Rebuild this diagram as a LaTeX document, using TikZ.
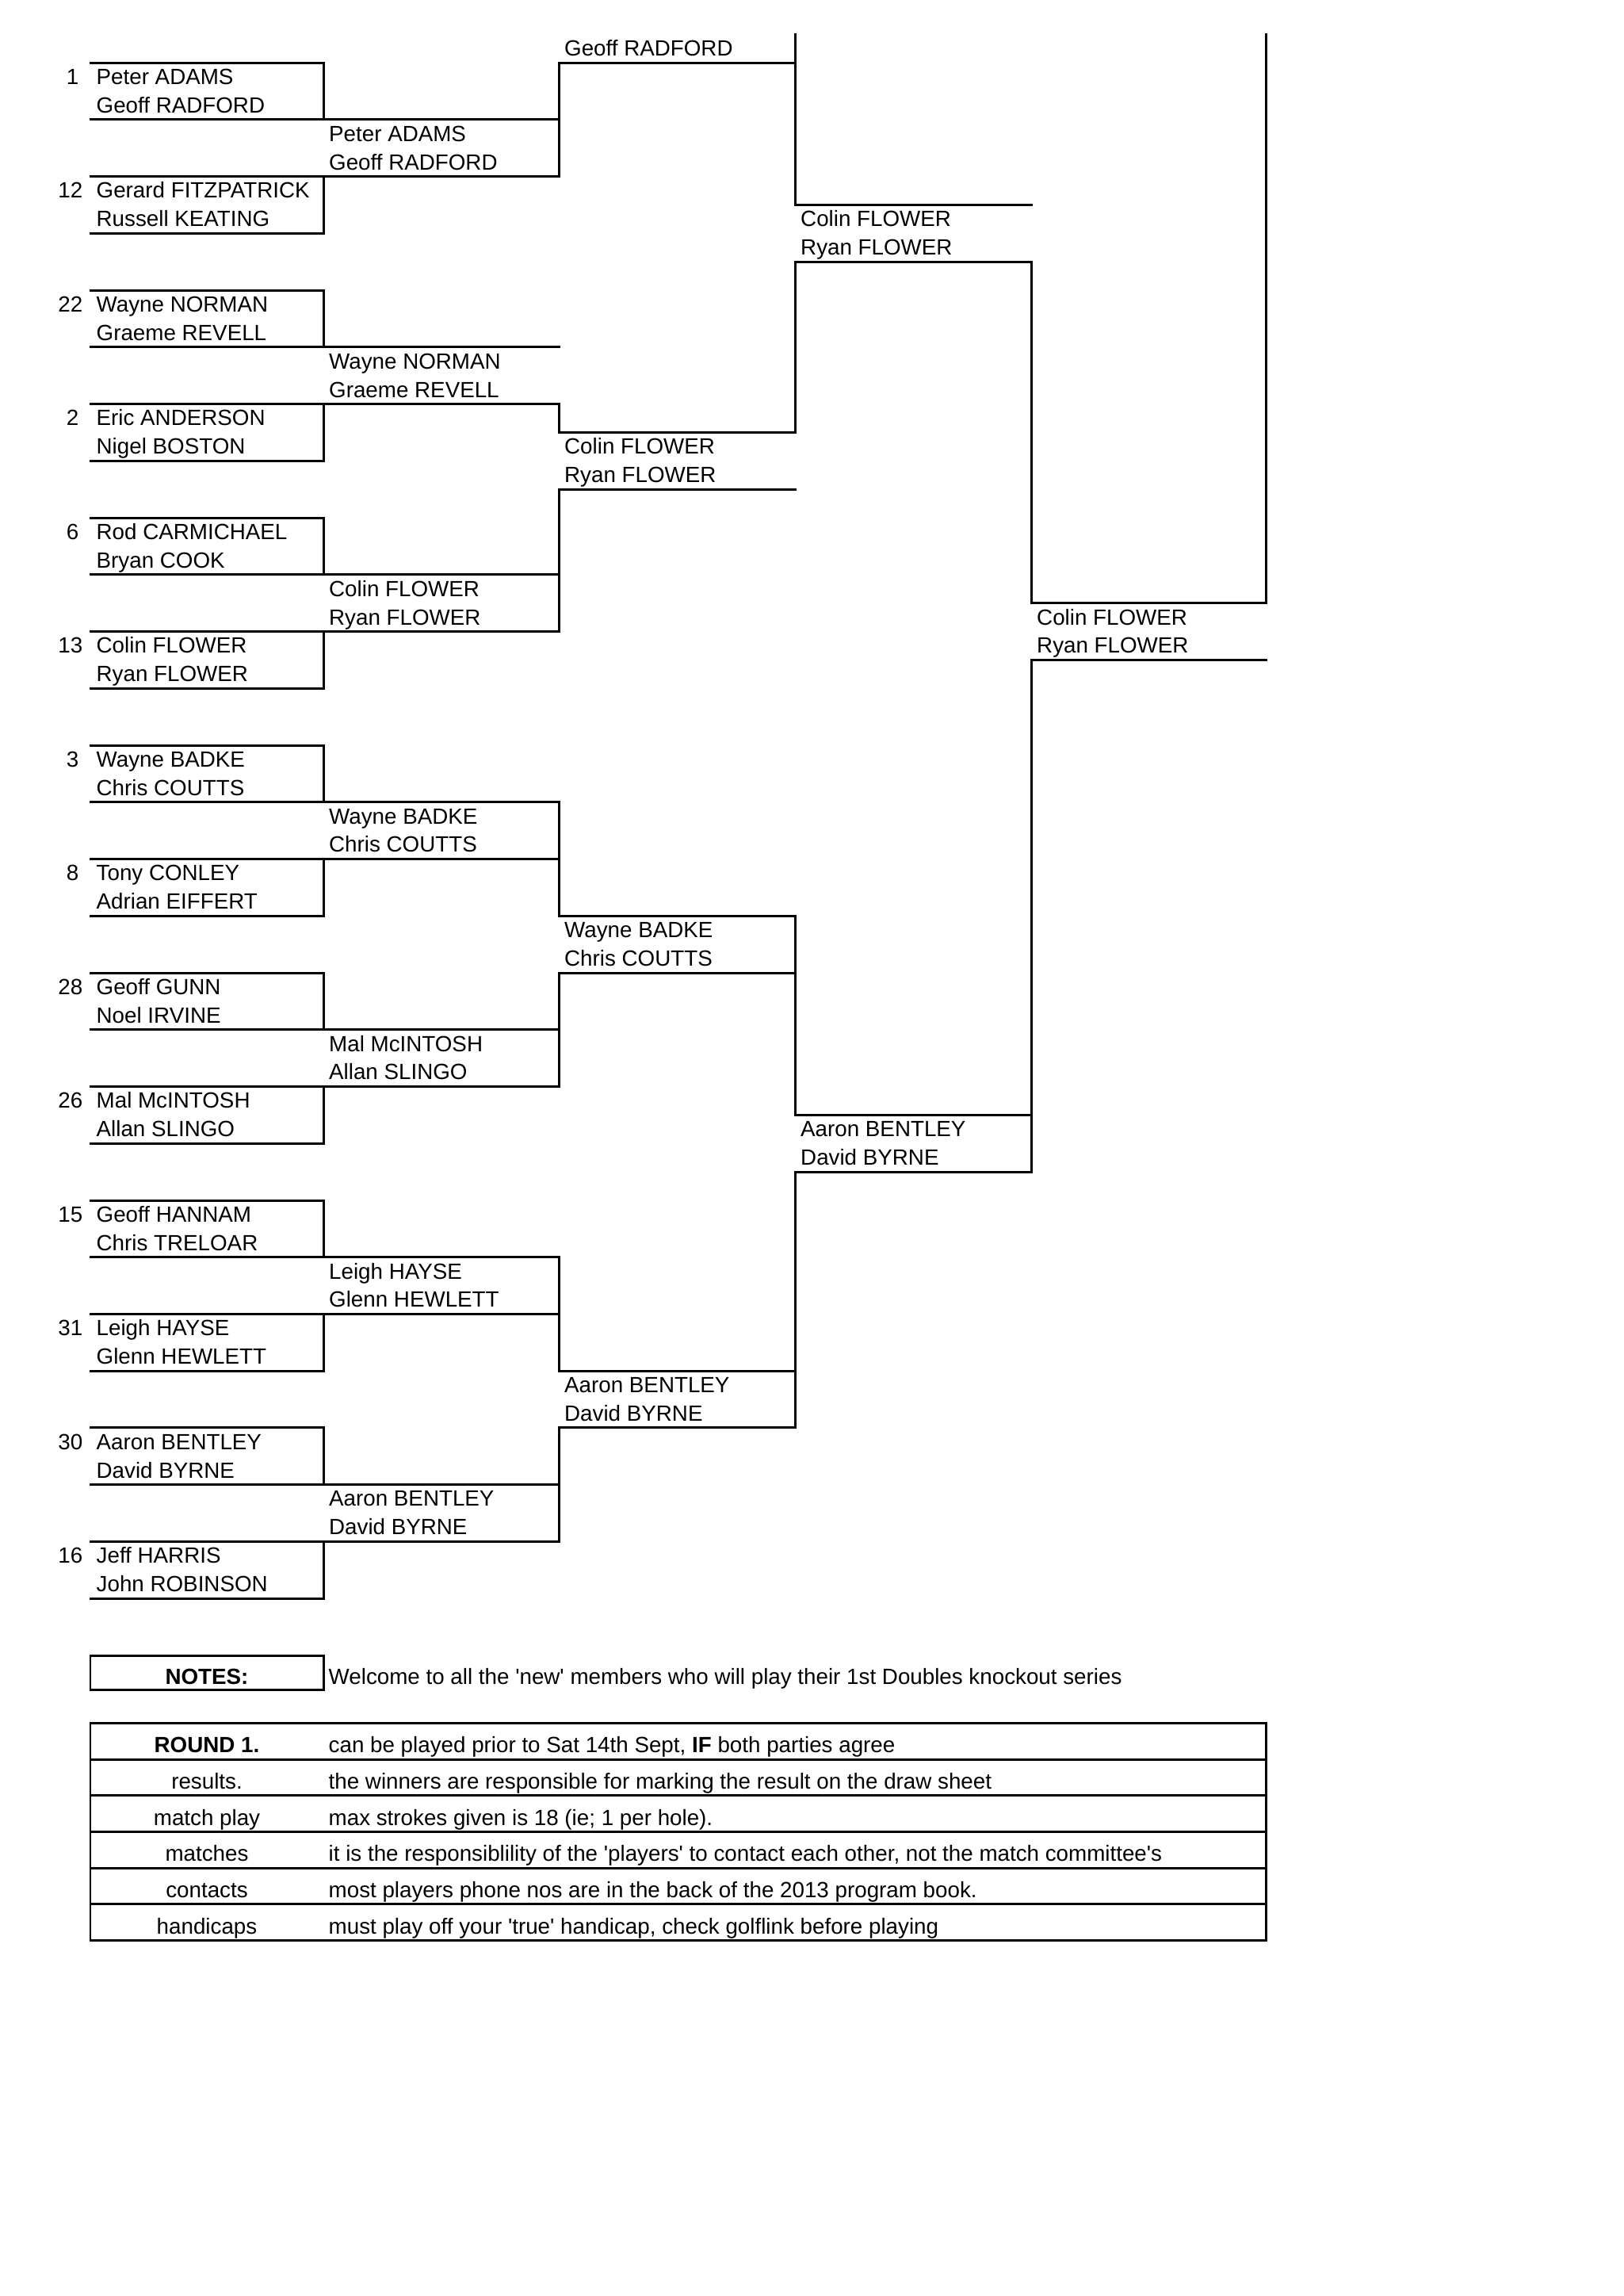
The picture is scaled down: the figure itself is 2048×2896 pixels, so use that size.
\documentclass[tikz,border=0pt]{standalone}
\usepackage{fontspec}
\setmainfont{Liberation Sans}[Ligatures=TeXOff]
\tikzset{
  ln/.style={line width=0.87pt, line cap=rect, line join=miter},
  txt/.style={anchor=base west, inner sep=0pt, font=\fontsize{8.07}{9}\selectfont},
  seed/.style={anchor=base east, inner sep=0pt, font=\fontsize{8.07}{9}\selectfont},
  ctr/.style={anchor=base, inner sep=0pt, font=\fontsize{8.07}{9}\selectfont},
}
\begin{document}
\begin{tikzpicture}[x=0.29063pt, y=-0.29063pt]
\useasboundingbox (0,0) rectangle (2048,2896);
\fill[white] (0,0) rectangle (2048,2896);
% grid: rows k -> y = 79.2 + 35.87 k ; baseline in row k -> 106.47 + 35.87 k
\foreach \kk in {-1,0,...,54}{
  \pgfmathsetmacro\yv{79.2+35.87*\kk}
  \coordinate (L\kk) at (114,\yv);
  \coordinate (A\kk) at (408,\yv);
  \coordinate (B\kk) at (705,\yv);
  \coordinate (C\kk) at (1003,\yv);
  \coordinate (D\kk) at (1301,\yv);
  \coordinate (E\kk) at (1597,\yv);
}
% round 1 matches
\foreach \mm in {0,8,16,24,32,40,48}{
  \pgfmathtruncatemacro\ma{\mm+2}
  \pgfmathtruncatemacro\mb{\mm+4}
  \pgfmathtruncatemacro\mc{\mm+6}
  \draw[ln] (L\mm) -- (A\mm) -- (A\ma);
  \draw[ln] (L\ma) -- (B\ma);
  \draw[ln] (L\mb) -- (B\mb);
  \draw[ln] (L\mc) -- (A\mc) -- (A\mb);
}
% later rounds
\draw[ln] (B4) -- (B0) -- (C0);
\draw[ln] (C-1) -- (C5) -- (D5);
\draw[ln] (D7) -- (C7) -- (C13);
\draw[ln] (D7) -- (D19) -- (E19) -- (E-1);
\draw[ln] (E21) -- (D21) -- (D39);
\draw[ln] (B12) -- (B13) -- (C13);
\draw[ln] (C15) -- (B15) -- (B20);
\draw[ln] (B26) -- (B30) -- (C30) -- (C37) -- (D37);
\draw[ln] (C32) -- (B32) -- (B36);
\draw[ln] (D39) -- (C39) -- (C48);
\draw[ln] (B42) -- (B46) -- (C46);
\draw[ln] (C48) -- (B48) -- (B52);
% text nodes: seeds and names
\newcommand\seedat[3]{\pgfmathsetmacro\yb{106.47+35.87*#2}\node[seed] (s#1) at (#3,\yb) {#1};}
\newcommand\duo[5]{%
  \pgfmathsetmacro\yb{106.47+35.87*#3}%
  \pgfmathsetmacro\yc{106.47+35.87*(#3+1)}%
  \node[txt] (#1a) at (#2,\yb) {#4};
  \node[txt] (#1b) at (#2,\yc) {#5};}
\seedat{1}{0}{100}
\seedat{12}{4}{105}
\seedat{22}{8}{105}
\seedat{2}{12}{100}
\seedat{6}{16}{100}
\seedat{13}{20}{105}
\seedat{3}{24}{100}
\seedat{8}{28}{100}
\seedat{28}{32}{105}
\seedat{26}{36}{105}
\seedat{15}{40}{105}
\seedat{31}{44}{105}
\seedat{30}{48}{105}
\seedat{16}{52}{105}
% round 1 names
\duo{ra}{121}{0}{Peter ADAMS}{Geoff RADFORD}
\duo{rb}{121}{4}{Gerard FITZPATRICK}{Russell KEATING}
\duo{rc}{121}{8}{Wayne NORMAN}{Graeme REVELL}
\duo{rd}{121}{12}{Eric ANDERSON}{Nigel BOSTON}
\duo{re}{121}{16}{Rod CARMICHAEL}{Bryan COOK}
\duo{rf}{121}{20}{Colin FLOWER}{Ryan FLOWER}
\duo{rg}{121}{24}{Wayne BADKE}{Chris COUTTS}
\duo{rh}{121}{28}{Tony CONLEY}{Adrian EIFFERT}
\duo{ri}{121}{32}{Geoff GUNN}{Noel IRVINE}
\duo{rj}{121}{36}{Mal McINTOSH}{Allan SLINGO}
\duo{rk}{121}{40}{Geoff HANNAM}{Chris TRELOAR}
\duo{rl}{121}{44}{Leigh HAYSE}{Glenn HEWLETT}
\duo{rm}{121}{48}{Aaron BENTLEY}{David BYRNE}
\duo{rn}{121}{52}{Jeff HARRIS}{John ROBINSON}
% round 2
\duo{qa}{414.5}{2}{Peter ADAMS}{Geoff RADFORD}
\duo{qb}{414.5}{10}{Wayne NORMAN}{Graeme REVELL}
\duo{qc}{414.5}{18}{Colin FLOWER}{Ryan FLOWER}
\duo{qd}{414.5}{26}{Wayne BADKE}{Chris COUTTS}
\duo{qe}{414.5}{34}{Mal McINTOSH}{Allan SLINGO}
\duo{qf}{414.5}{42}{Leigh HAYSE}{Glenn HEWLETT}
\duo{qg}{414.5}{50}{Aaron BENTLEY}{David BYRNE}
% round 3
\node[txt] (pa) at (711.5,70.6) {Geoff RADFORD};
\duo{pb}{711.5}{13}{Colin FLOWER}{Ryan FLOWER}
\duo{pc}{711.5}{30}{Wayne BADKE}{Chris COUTTS}
\duo{pd}{711.5}{46}{Aaron BENTLEY}{David BYRNE}
% round 4
\duo{oa}{1009.5}{5}{Colin FLOWER}{Ryan FLOWER}
\duo{ob}{1009.5}{37}{Aaron BENTLEY}{David BYRNE}
% round 5
\duo{na}{1307.5}{19}{Colin FLOWER}{Ryan FLOWER}
% notes
\draw[ln] (114,2088.7) rectangle (408,2131.7);
\node[ctr] (notes) at (261,2124) {\bfseries NOTES:};
\node[txt] (welcome) at (414,2124) {Welcome to all the 'new' members who will play their 1st Doubles knockout series};
% table
\draw[ln] (114,2173.3) rectangle (1597,2447.6);
\foreach \yy in {2219.0,2264.7,2310.4,2356.1,2401.9}{
  \draw[ln] (114,\yy) -- (1597,\yy);
}
\node[ctr] (k1) at (261,2210.7) {\bfseries ROUND 1.};
\node[txt] (v1) at (414,2210.7) {can be played prior to Sat 14th Sept, \textbf{IF} both parties agree};
\node[ctr] (k2) at (261,2256.4) {results.};
\node[txt] (v2) at (414,2256.4) {the winners are responsible for marking the result on the draw sheet};
\node[ctr] (k3) at (261,2302.1) {match play};
\node[txt] (v3) at (414,2302.1) {max strokes given is 18 (ie; 1 per hole).};
\node[ctr] (k4) at (261,2347.8) {matches};
\node[txt] (v4) at (414,2347.8) {it is the responsiblility of the 'players' to contact each other, not the match committee's};
\node[ctr] (k5) at (261,2393.5) {contacts};
\node[txt] (v5) at (414,2393.5) {most players phone nos are in the back of the 2013 program book.};
\node[ctr] (k6) at (261,2439.1) {handicaps};
\node[txt] (v6) at (414,2439.1) {must play off your 'true' handicap, check golflink before playing};
\end{tikzpicture}
\end{document}
